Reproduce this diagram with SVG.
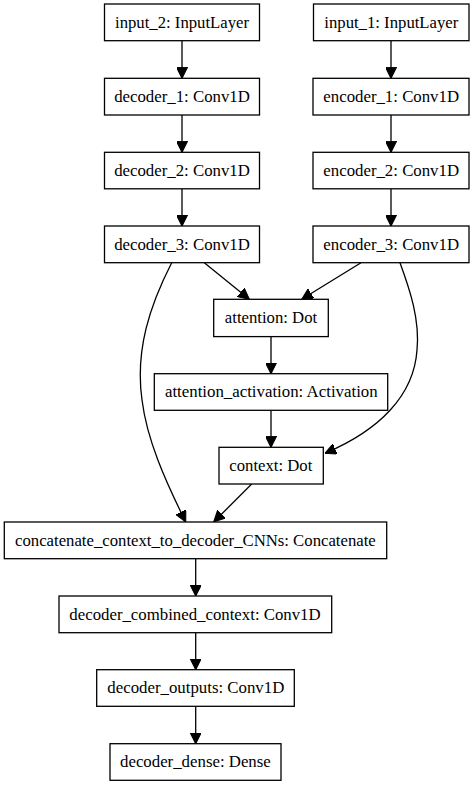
<svg xmlns="http://www.w3.org/2000/svg" width="474" height="785" viewBox="0 0 474 785">
<style>
.box{fill:#fff;stroke:#000;stroke-width:1.3}
.lbl{font-size:16px;fill:#000;text-anchor:middle}
.edge{fill:none;stroke:#000;stroke-width:1.3;marker-end:url(#arr)}
</style>
<defs>
<marker id="arr" markerUnits="userSpaceOnUse" markerWidth="11" markerHeight="11" refX="10" refY="5" orient="auto" viewBox="0 0 10 10">
<path d="M0,0 L10,5 L0,10 z" fill="#000" stroke="#000" stroke-width="1"/>
</marker>
</defs>
<rect width="474" height="785" fill="#fff"/>
<g id="connectors">
<path class="edge" d="M182,40.7 L182,78.3"/>
<path class="edge" d="M391,40.7 L391,78.3"/>
<path class="edge" d="M182,115 L182,152.3"/>
<path class="edge" d="M391,115 L391,152.3"/>
<path class="edge" d="M182,188.8 L182,226"/>
<path class="edge" d="M391,188.8 L391,226"/>
<path class="edge" d="M204.3,262.7 L249.3,299.3"/>
<path class="edge" d="M361,262.7 L301.7,299.3"/>
<path class="edge" d="M171.7,262.7 C150,305 135,350 142,400 C147,440 165,480 185.7,522"/>
<path class="edge" d="M400,262.7 C410,290 420,320 417,350 C414,395 380,430 325,453.3"/>
<path class="edge" d="M271,336.6 L271,373.7"/>
<path class="edge" d="M271,410.3 L271,447.3"/>
<path class="edge" d="M251.7,484 L213.7,522"/>
<path class="edge" d="M195.7,558.7 L195.7,596"/>
<path class="edge" d="M195.7,632.7 L195.7,669.7"/>
<path class="edge" d="M195.7,706.3 L195.7,743.7"/>
</g>
<g font-family="Liberation Serif, DejaVu Serif, serif">
<g id="input_2"><rect class="box" x="104.5" y="4" width="155" height="36.7"/><text class="lbl" x="182" y="27.5" textLength="134" lengthAdjust="spacingAndGlyphs">input_2: InputLayer</text></g>
<g id="input_1"><rect class="box" x="313.5" y="4" width="155.5" height="36.7"/><text class="lbl" x="391.3" y="27.5" textLength="134" lengthAdjust="spacingAndGlyphs">input_1: InputLayer</text></g>
<g id="decoder_1"><rect class="box" x="104.5" y="78.3" width="155" height="36.7"/><text class="lbl" x="182" y="101.8" textLength="135.7" lengthAdjust="spacingAndGlyphs">decoder_1: Conv1D</text></g>
<g id="encoder_1"><rect class="box" x="313" y="78.3" width="156" height="36.7"/><text class="lbl" x="391.2" y="101.8" textLength="135.7" lengthAdjust="spacingAndGlyphs">encoder_1: Conv1D</text></g>
<g id="decoder_2"><rect class="box" x="104.5" y="152.3" width="155" height="36.5"/><text class="lbl" x="182" y="175.8" textLength="135.7" lengthAdjust="spacingAndGlyphs">decoder_2: Conv1D</text></g>
<g id="encoder_2"><rect class="box" x="313" y="152.3" width="156" height="36.5"/><text class="lbl" x="391.2" y="175.8" textLength="135.7" lengthAdjust="spacingAndGlyphs">encoder_2: Conv1D</text></g>
<g id="decoder_3"><rect class="box" x="104.5" y="226" width="155" height="36.7"/><text class="lbl" x="182" y="249.5" textLength="135.7" lengthAdjust="spacingAndGlyphs">decoder_3: Conv1D</text></g>
<g id="encoder_3"><rect class="box" x="313" y="226" width="156" height="36.7"/><text class="lbl" x="391.2" y="249.5" textLength="135.7" lengthAdjust="spacingAndGlyphs">encoder_3: Conv1D</text></g>
<g id="attention"><rect class="box" x="213.7" y="299.3" width="114.6" height="37.3"/><text class="lbl" x="271" y="323.1" textLength="92.3" lengthAdjust="spacingAndGlyphs">attention: Dot</text></g>
<g id="attention_activation"><rect class="box" x="154.3" y="373.7" width="233.4" height="36.6"/><text class="lbl" x="271.3" y="397.2" textLength="212.7" lengthAdjust="spacingAndGlyphs">attention_activation: Activation</text></g>
<g id="context"><rect class="box" x="219" y="447.3" width="104.3" height="36.7"/><text class="lbl" x="270.8" y="470.8" textLength="83" lengthAdjust="spacingAndGlyphs">context: Dot</text></g>
<g id="concatenate"><rect class="box" x="4.3" y="522" width="382.4" height="36.7"/><text class="lbl" x="195.4" y="545.5" textLength="360.7" lengthAdjust="spacingAndGlyphs">concatenate_context_to_decoder_CNNs: Concatenate</text></g>
<g id="decoder_combined_context"><rect class="box" x="59" y="596" width="272.7" height="36.7"/><text class="lbl" x="195" y="619.5" textLength="251.3" lengthAdjust="spacingAndGlyphs">decoder_combined_context: Conv1D</text></g>
<g id="decoder_outputs"><rect class="box" x="96.7" y="669.7" width="197.6" height="36.6"/><text class="lbl" x="195.8" y="693.2" textLength="177" lengthAdjust="spacingAndGlyphs">decoder_outputs: Conv1D</text></g>
<g id="decoder_dense"><rect class="box" x="110" y="743.7" width="171" height="36.6"/><text class="lbl" x="195.4" y="767.2" textLength="150.7" lengthAdjust="spacingAndGlyphs">decoder_dense: Dense</text></g>
</g>
</svg>
